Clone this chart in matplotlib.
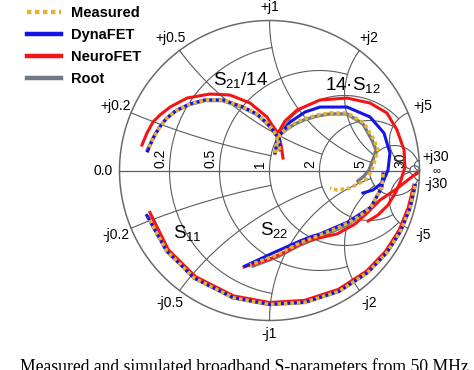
import numpy as np
import matplotlib
matplotlib.use("Agg")
import matplotlib.pyplot as plt
from matplotlib.lines import Line2D

plt.rcParams['font.family'] = ['Liberation Sans', 'DejaVu Sans']
plt.rcParams['mathtext.default'] = 'regular'

# smith chart grid values and where each grid line stops
grid_vals = [0.2, 0.5, 1, 2, 5, 30]
grid_clip = [1, 2, 5, 5, 30, np.inf]

models = ['Measured', 'DynaFET', 'NeuroFET', 'Root']

s11_meas_re = [0.970, 0.937, 0.873, 0.782, 0.656, 0.465, 0.236, 0.000, -0.243, -0.502, -0.686, -0.809]
s11_meas_im = [-0.102, -0.251, -0.407, -0.548, -0.680, -0.805, -0.879, -0.893, -0.848, -0.717, -0.536, -0.311]
s11_dyna_re = [0.972, 0.938, 0.874, 0.783, 0.657, 0.466, 0.237, 0.001, -0.242, -0.502, -0.687, -0.818]
s11_dyna_im = [-0.100, -0.250, -0.406, -0.547, -0.679, -0.804, -0.878, -0.892, -0.848, -0.718, -0.537, -0.300]
s11_neuro_re = [0.962, 0.925, 0.862, 0.772, 0.647, 0.458, 0.233, 0.000, -0.240, -0.494, -0.675, -0.797]
s11_neuro_im = [-0.098, -0.248, -0.402, -0.541, -0.671, -0.793, -0.866, -0.880, -0.836, -0.707, -0.528, -0.280]
s11_root_re = [0.968, 0.935, 0.871, 0.780, 0.654, 0.463, 0.235, -0.001, -0.244, -0.503, -0.685, -0.806]
s11_root_im = [-0.103, -0.252, -0.408, -0.549, -0.681, -0.806, -0.880, -0.894, -0.849, -0.716, -0.534, -0.310]

s22_meas_re = [0.757, 0.750, 0.677, 0.603, 0.523, 0.437, 0.337, 0.203, 0.050, -0.130]
s22_meas_im = [-0.023, -0.110, -0.243, -0.303, -0.350, -0.390, -0.430, -0.483, -0.563, -0.630]
s22_dyna_re = [0.757, 0.750, 0.677, 0.523, 0.337, 0.290, 0.203, 0.023, -0.163]
s22_dyna_im = [-0.023, -0.110, -0.243, -0.343, -0.423, -0.437, -0.470, -0.550, -0.637]
s22_neuro_re = [0.983, 0.923, 0.837, 0.737, 0.657, 0.570, 0.450, 0.297, 0.230, 0.103, 0.003, -0.170]
s22_neuro_im = [-0.017, -0.063, -0.130, -0.197, -0.277, -0.357, -0.423, -0.457, -0.477, -0.543, -0.590, -0.643]
s22_root_re = [0.757, 0.743, 0.670, 0.517, 0.337, 0.203, 0.050, -0.110]
s22_root_im = [-0.030, -0.123, -0.257, -0.363, -0.443, -0.497, -0.577, -0.637]

# S21 scaled by 1/14
s21_meas_re = [0.037, 0.050, 0.050, 0.023, -0.017, -0.083, -0.177, -0.310, -0.430, -0.530, -0.617, -0.683, -0.730, -0.770, -0.810]
s21_meas_im = [0.117, 0.183, 0.230, 0.270, 0.317, 0.377, 0.423, 0.470, 0.470, 0.443, 0.403, 0.350, 0.290, 0.223, 0.137]
s21_dyna_re = [0.040, 0.050, 0.048, 0.022, -0.018, -0.085, -0.178, -0.311, -0.431, -0.531, -0.618, -0.684, -0.731, -0.771, -0.812]
s21_dyna_im = [0.120, 0.185, 0.231, 0.271, 0.318, 0.378, 0.424, 0.471, 0.471, 0.444, 0.404, 0.351, 0.291, 0.224, 0.130]
s21_neuro_re = [0.090, 0.077, 0.057, 0.017, -0.017, -0.130, -0.263, -0.397, -0.550, -0.663, -0.730, -0.777, -0.817, -0.850]
s21_neuro_im = [0.083, 0.170, 0.250, 0.303, 0.357, 0.450, 0.503, 0.510, 0.483, 0.423, 0.370, 0.323, 0.250, 0.170]
s21_root_re = [0.035, 0.048, 0.049, 0.021, -0.019, -0.085, -0.179, -0.312, -0.432, -0.533, -0.620, -0.687, -0.735, -0.775, -0.815]
s21_root_im = [0.115, 0.182, 0.229, 0.268, 0.314, 0.373, 0.419, 0.466, 0.466, 0.439, 0.399, 0.346, 0.287, 0.220, 0.135]

# S12 scaled by 14
s12_meas_re = [0.070, 0.057, 0.070, 0.117, 0.170, 0.230, 0.317, 0.403, 0.517, 0.630, 0.697, 0.723, 0.703, 0.683, 0.650, 0.603, 0.537, 0.450, 0.403]
s12_meas_im = [0.137, 0.197, 0.243, 0.283, 0.317, 0.343, 0.370, 0.383, 0.383, 0.317, 0.203, 0.137, 0.070, 0.003, -0.050, -0.083, -0.117, -0.130, -0.117]
s12_dyna_re = [0.070, 0.063, 0.137, 0.237, 0.337, 0.517, 0.670, 0.763, 0.803, 0.790, 0.757, 0.690, 0.623]
s12_dyna_im = [0.150, 0.230, 0.323, 0.390, 0.423, 0.423, 0.357, 0.250, 0.117, 0.003, -0.077, -0.130, -0.150]
s12_neuro_re = [0.057, 0.103, 0.183, 0.337, 0.517, 0.670, 0.783, 0.850, 0.897, 0.903, 0.877, 0.843, 0.790, 0.723, 0.657]
s12_neuro_im = [0.250, 0.330, 0.403, 0.470, 0.483, 0.450, 0.383, 0.270, 0.137, 0.023, -0.063, -0.143, -0.230, -0.297, -0.337]
s12_root_re = [0.070, 0.057, 0.070, 0.117, 0.170, 0.230, 0.317, 0.403, 0.517, 0.623, 0.683, 0.710, 0.690, 0.663, 0.630, 0.590]
s12_root_im = [0.137, 0.197, 0.237, 0.277, 0.310, 0.337, 0.363, 0.377, 0.377, 0.310, 0.203, 0.137, 0.070, 0.003, -0.037, -0.070]

styles = {
    'Measured': dict(color='#E6B035', lw=2.6, ls=(0, (1, 0.8)), zorder=5),
    'DynaFET': dict(color='#1414E6', lw=2.2, zorder=4),
    'NeuroFET': dict(color='#F51414', lw=2.2, zorder=3),
    'Root': dict(color='#6E7886', lw=2.4, zorder=2),
}

curves = {
    'Measured': [(s11_meas_re, s11_meas_im), (s22_meas_re, s22_meas_im),
                 (s21_meas_re, s21_meas_im), (s12_meas_re, s12_meas_im)],
    'DynaFET': [(s11_dyna_re, s11_dyna_im), (s22_dyna_re, s22_dyna_im),
                (s21_dyna_re, s21_dyna_im), (s12_dyna_re, s12_dyna_im)],
    'NeuroFET': [(s11_neuro_re, s11_neuro_im), (s22_neuro_re, s22_neuro_im),
                 (s21_neuro_re, s21_neuro_im), (s12_neuro_re, s12_neuro_im)],
    'Root': [(s11_root_re, s11_root_im), (s22_root_re, s22_root_im),
             (s21_root_re, s21_root_im), (s12_root_re, s12_root_im)],
}


def gamma(z):
    return (z - 1) / (z + 1)


fig = plt.figure(figsize=(4.74, 3.70), dpi=100)
ax = fig.add_axes([0, 0, 1, 1])
ax.set_xlim(-269.5 / 150, 204.5 / 150)
ax.set_ylim(-199.5 / 150, 170.5 / 150)
ax.set_aspect('equal')
ax.axis('off')

# grid
gc = '#5c5c5c'
t = np.linspace(0, 2 * np.pi, 721)
ax.plot(np.cos(t), np.sin(t), color='#6a6a6a', lw=1.1, zorder=1)
ax.plot([-1, 1], [0, 0], color=gc, lw=0.9, zorder=1)
for v, c in zip(grid_vals, grid_clip):
    xs = np.tan(np.linspace(-np.arctan(c), np.arctan(c), 800))
    g = gamma(v + 1j * xs)
    ax.plot(g.real, g.imag, color=gc, lw=0.8, zorder=1)
    rs = np.tan(np.linspace(0, np.arctan(c), 800))
    for sgn in (1, -1):
        g = gamma(rs + 1j * sgn * v)
        ax.plot(g.real, g.imag, color=gc, lw=0.8, zorder=1)


def edge_label(g, text, size=10, extra=(0, 0)):
    d = g / abs(g)
    off = 10 + 2 * abs(d.real)
    ax.annotate(text, (g.real, g.imag),
                xytext=(d.real * off + extra[0], d.imag * off + extra[1]),
                textcoords='offset points', ha='center', va='center', fontsize=size)


for v in grid_vals:
    nudge = 1.5 if v == 30 else 0
    edge_label(gamma(1j * v), f'+j{v:g}', extra=(0, nudge))
    edge_label(gamma(-1j * v), f'-j{v:g}', extra=(0, -nudge))
    ax.annotate(f'{v:g}', (gamma(v), 0), xytext=(-6.5, 1.5), textcoords='offset points',
                rotation=90, ha='center', va='bottom', fontsize=10)
edge_label(complex(-1, 0), '0.0')
edge_label(complex(1, 0), '\u221e', size=8)

# curves
for m in models:
    for re, im in curves[m]:
        ax.plot(re, im, solid_joinstyle='round', **styles[m])

# curve names
ax.text(-0.377, 0.570, r'S$_{21}$/14', fontsize=13.5)
ax.text(0.370, 0.537, '14\u00b7S$_{12}$', fontsize=13.5)
ax.text(-0.643, -0.450, r'S$_{11}$', fontsize=13.5)
ax.text(-0.063, -0.430, r'S$_{22}$', fontsize=13.5)

handles = [Line2D([], [], **{k: v for k, v in styles[m].items() if k != 'zorder'}) for m in models]
for h in handles:
    h.set_linewidth(3.2)
fig.legend(handles, models, loc='upper left', bbox_to_anchor=(27 / 474, 1 - 6 / 370),
           frameon=False, borderpad=0, borderaxespad=0, handlelength=2.3,
           handletextpad=0.7, labelspacing=0.55, prop={'weight': 'bold', 'size': 10.5})

fig.text(20 / 474, -1.5 / 370, 'Measured and simulated broadband S-parameters from 50 MHz',
         family='Liberation Serif', fontsize=12.7, va='baseline')

fig.savefig('out.png', dpi=100)
